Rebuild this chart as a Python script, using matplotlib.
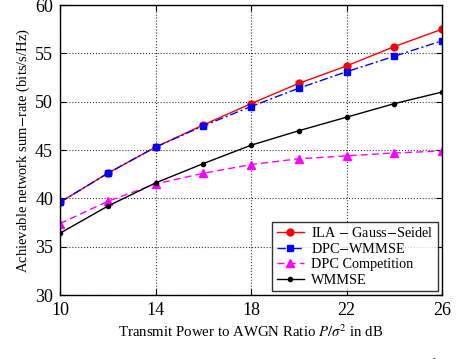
import numpy as np
import matplotlib.pyplot as plt

plt.rcParams['font.family'] = ['Liberation Serif', 'DejaVu Serif']
plt.rcParams['mathtext.fontset'] = 'stix'

snr_db = [10, 12, 14, 16, 18, 20, 22, 24, 26]
ila_gs = [39.6, 42.6, 45.3, 47.6, 49.8, 51.9, 53.7, 55.7, 57.5]
dpc_wmmse = [39.6, 42.6, 45.3, 47.5, 49.5, 51.4, 53.1, 54.7, 56.3]
dpc_comp = [37.4, 39.7, 41.5, 42.6, 43.5, 44.1, 44.4, 44.7, 44.9]
wmmse = [36.4, 39.2, 41.6, 43.6, 45.5, 47.0, 48.4, 49.8, 51.0]

fig = plt.figure(figsize=(4.74, 3.59), dpi=100)
ax = fig.add_axes([0.1266, 0.178, 0.806, 0.808])

ax.plot(snr_db, ila_gs, color='red', marker='o', markersize=5, lw=1.0,
        label='ILA $-$ Gauss$-$Seidel')
ax.plot(snr_db, dpc_wmmse, color='blue', marker='s', markersize=5, lw=1.0,
        linestyle=(0, (6, 2, 1.5, 2)), label='DPC$-$WMMSE')
ax.plot(snr_db, dpc_comp, color='magenta', marker='^', markersize=5.5, lw=1.0,
        linestyle=(0, (5, 3)), label='DPC Competition')
ax.plot(snr_db, wmmse, color='black', marker='.', markersize=6, lw=1.0,
        label='WMMSE')

ax.set_xlim(10, 26)
ax.set_ylim(30, 60)
ax.set_xticks([10, 14, 18, 22, 26])
ax.set_yticks([30, 35, 40, 45, 50, 55, 60])
ax.grid(True, linestyle=':', color='black', lw=0.8, alpha=0.8)
ax.tick_params(direction='in', labelsize=13, length=4, top=True, right=True, pad=5)
for s in ax.spines.values():
    s.set_linewidth(1.0)

ax.set_xlabel(r'Transmit Power to AWGN Ratio $P/\sigma^2$ in dB', fontsize=10.7, labelpad=3)
ax.set_ylabel('Achievable network sum$-$rate (bits/s/Hz)', fontsize=10.5, labelpad=2)

leg = ax.legend(loc='lower right', fontsize=10.3, frameon=True, fancybox=False,
                edgecolor='black', handlelength=1.9, borderpad=0.3,
                labelspacing=0.15, handletextpad=0.5, borderaxespad=0.3)
leg.get_frame().set_linewidth(1.0)

fig.text(0.0, -0.018, 'Fig. 5.    Network sum-rate versus the transmit power-to-AWGN ratio for',
         fontsize=11, va='center', ha='left')

fig.savefig('out.png', dpi=100)
